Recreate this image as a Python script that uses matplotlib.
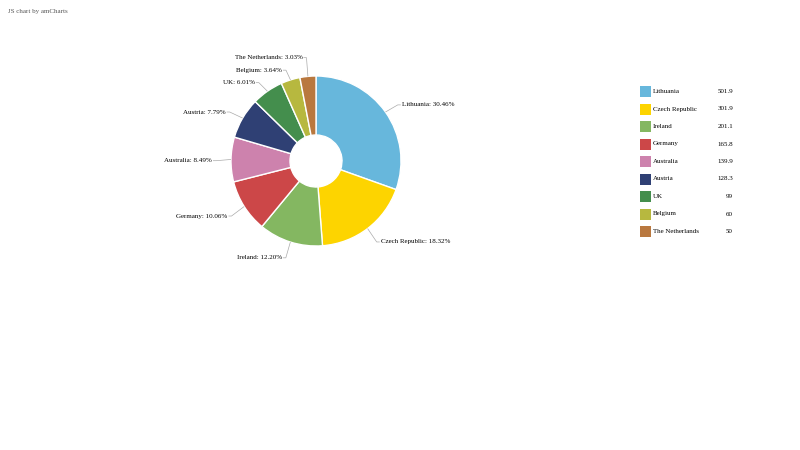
import numpy as np
import matplotlib
matplotlib.use("Agg")
import matplotlib.pyplot as plt

# data
countries = ["Lithuania", "Czech Republic", "Ireland", "Germany", "Australia",
             "Austria", "UK", "Belgium", "The Netherlands"]
litres = [501.9, 301.9, 201.1, 165.8, 139.9, 128.3, 99, 60, 50]
value_labels = ["501.9", "301.9", "201.1", "165.8", "139.9", "128.3", "99", "60", "50"]
colors = ["#67b7dc", "#fdd400", "#84b761", "#cc4748", "#cd82ad",
          "#2f4074", "#448e4d", "#b7b83f", "#b9783f"]

W, H = 800, 450
cx, cy = 316, H - 161
R_out, R_in = 85, 26
R_lab = 100
gap = 12.5
y_shift = -1.5  # labels sit a little low in the original

plt.rcParams['font.family'] = ['Liberation Serif', 'DejaVu Serif']

fig = plt.figure(figsize=(W / 100, H / 100), dpi=100)
ax = fig.add_axes([0, 0, 1, 1])

wedges, _ = ax.pie(litres, colors=colors, startangle=90, counterclock=False,
                   radius=R_out, center=(cx, cy),
                   wedgeprops=dict(width=R_out - R_in, edgecolor="white", linewidth=1.0))
ax.set_xlim(0, W)
ax.set_ylim(0, H)
ax.set_aspect("equal")
ax.axis("off")

values = np.array(litres)
frac = values / values.sum()
mids = 90 - (np.cumsum(frac) - frac / 2) * 360
rad = np.deg2rad(mids)

# natural label anchors, then spread apart on each side
lab_y = cy + R_lab * np.sin(rad) + y_shift
lab_x = cx + R_lab * np.cos(rad)
right = np.cos(rad) >= 0
for side in (right, ~right):
    for _ in range(300):
        idx = [i for i in np.argsort(-lab_y) if side[i]]
        for a, b in zip(idx[:-1], idx[1:]):
            d = lab_y[a] - lab_y[b]
            if d < gap:
                lab_y[a] += (gap - d) / 2
                lab_y[b] -= (gap - d) / 2

for i, name in enumerate(countries):
    ex = cx + R_out * np.cos(rad[i])
    ey = cy + R_out * np.sin(rad[i])
    dx = 3 if right[i] else -3
    ax.plot([ex, lab_x[i], lab_x[i] + dx], [ey, lab_y[i], lab_y[i]],
            color="#aaaaaa", lw=0.5, solid_capstyle="butt")
    ax.text(lab_x[i] + dx * 1.3, lab_y[i], f"{name}: {frac[i] * 100:.2f}%",
            ha="left" if right[i] else "right", va="center",
            fontsize=5, color="#000000")

# legend
ly0, lstep = H - 91.5, 17.5
for i, name in enumerate(countries):
    y = ly0 - i * lstep
    ax.add_patch(plt.Rectangle((640, y - 5.5), 11, 11, facecolor=colors[i],
                               edgecolor="none"))
    ax.text(653, y, name, ha="left", va="center", fontsize=5, color="#000000")
    ax.text(733, y, value_labels[i], ha="right", va="center", fontsize=5,
            color="#000000")

ax.text(8, H - 12, "JS chart by amCharts", ha="left", va="center",
        fontsize=5, color="#555555")

fig.savefig("out.png", dpi=100)
